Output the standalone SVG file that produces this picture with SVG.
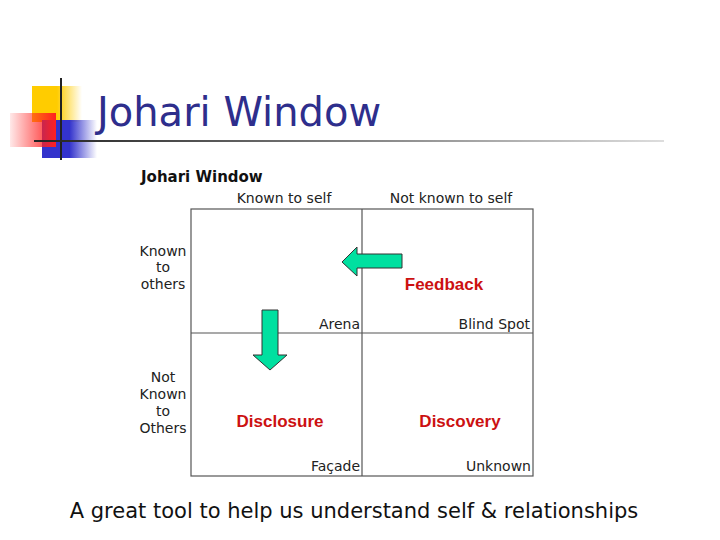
<svg xmlns="http://www.w3.org/2000/svg" width="720" height="540" viewBox="0 0 720 540">
<defs>
<linearGradient id="gy" x1="0" x2="1"><stop offset="0.5" stop-color="#ffcc00"/><stop offset="1" stop-color="#ffcc00" stop-opacity="0"/></linearGradient>
<linearGradient id="gb" x1="0" x2="1"><stop offset="0.5" stop-color="#3333cc"/><stop offset="1" stop-color="#3333cc" stop-opacity="0"/></linearGradient>
<linearGradient id="gr" x1="1" x2="0"><stop offset="0" stop-color="#ff2020"/><stop offset="1" stop-color="#ff2020" stop-opacity="0.1"/></linearGradient>
<linearGradient id="gl" x1="0" x2="1"><stop offset="0" stop-color="#222"/><stop offset="1" stop-color="#ddd"/></linearGradient>
<style>
.s{font-family:Verdana,"DejaVu Sans",sans-serif;font-size:14px;fill:#222}
.r{font-family:"Liberation Sans",Arial,sans-serif;font-size:17px;font-weight:bold;fill:#cc1111}
.ar{fill:#00e0a0;stroke:#333;stroke-width:1}
</style>
</defs>
<g id="logo">
<rect x="32" y="86" width="50" height="36" fill="url(#gy)"/>
<rect x="42" y="120" width="55" height="38" fill="url(#gb)"/>
<rect x="10" y="113" width="46" height="34" fill="url(#gr)"/>
<line x1="61" y1="78" x2="61" y2="160" stroke="#222" stroke-width="2"/>
<rect x="34" y="140" width="630" height="2" fill="url(#gl)"/>
</g>
<text x="97" y="126" font-family="Verdana,'DejaVu Sans',sans-serif" font-size="40" fill="#2e2e8c">Johari Window</text>
<g id="grid">
<rect x="191" y="209" width="342" height="267" fill="none" stroke="#555" stroke-width="1.2"/>
<line x1="362" y1="209" x2="362" y2="476" stroke="#555" stroke-width="1.2"/>
<line x1="191" y1="333" x2="533" y2="333" stroke="#555" stroke-width="1.2"/>
</g>
<text x="141" y="182" font-family="Verdana,'DejaVu Sans',sans-serif" font-size="15" font-weight="bold" fill="#111">Johari Window</text>
<g class="s">
<text x="284" y="203" text-anchor="middle">Known to self</text>
<text x="451" y="203" text-anchor="middle">Not known to self</text>
<text x="163" y="256" text-anchor="middle">Known</text>
<text x="163" y="272" text-anchor="middle">to</text>
<text x="163" y="289" text-anchor="middle">others</text>
<text x="163" y="382" text-anchor="middle">Not</text>
<text x="163" y="399" text-anchor="middle">Known</text>
<text x="163" y="416" text-anchor="middle">to</text>
<text x="163" y="433" text-anchor="middle">Others</text>
<text x="360" y="329" text-anchor="end">Arena</text>
<text x="530" y="329" text-anchor="end">Blind Spot</text>
<text x="360" y="471" text-anchor="end">Façade</text>
<text x="531" y="471" text-anchor="end">Unknown</text>
</g>
<g id="labels">
<text class="r" x="444" y="290" text-anchor="middle">Feedback</text>
<text class="r" x="280" y="427" text-anchor="middle">Disclosure</text>
<text class="r" x="460" y="427" text-anchor="middle">Discovery</text>
</g>
<g id="arrows">
<path class="ar" d="M342,262 L357,247 L357,254 L402,254 L402,268 L357,268 L357,276 Z"/>
<path class="ar" d="M262,310 L278,310 L278,355 L287,355 L270,370 L253,355 L262,355 Z"/>
</g>
<text x="354" y="518" text-anchor="middle" font-family="Verdana,'DejaVu Sans',sans-serif" font-size="21" fill="#111">A great tool to help us understand self &amp; relationships</text>
</svg>
